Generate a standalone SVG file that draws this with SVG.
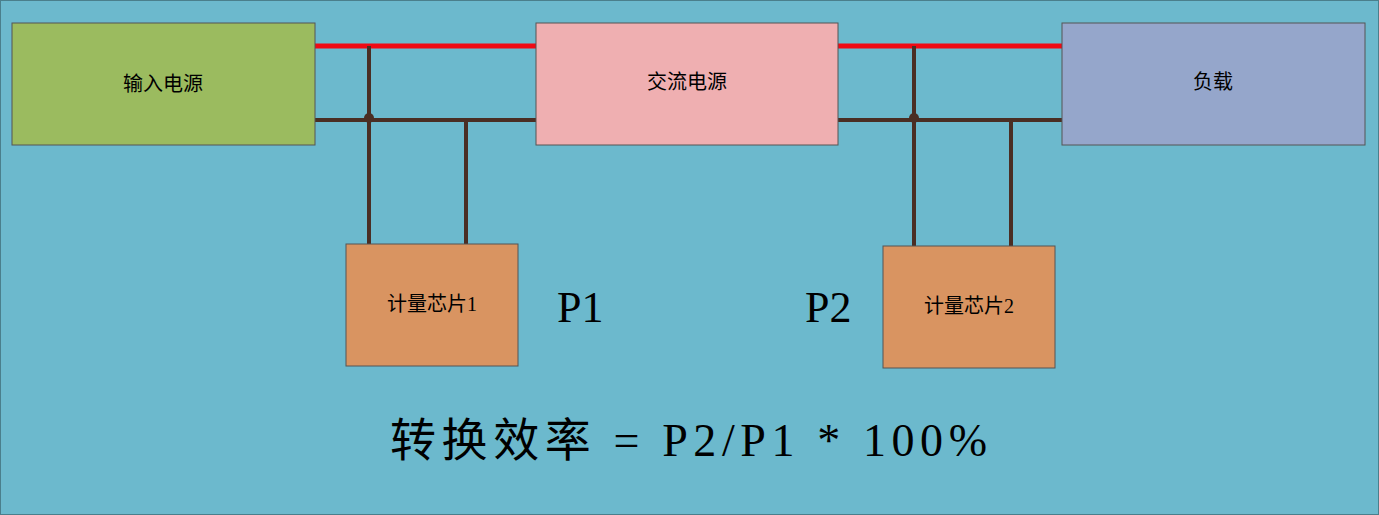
<svg xmlns="http://www.w3.org/2000/svg" width="1379" height="515" viewBox="0 0 1379 515">
<style>
.box{stroke:#555;stroke-width:1}
.lbl{font-family:"Liberation Serif","Noto Sans CJK SC",serif;font-size:20px;text-anchor:middle;fill:#000}
.big{font-family:"Liberation Serif","Noto Sans CJK SC",serif;fill:#000}
.red{stroke:#F00A14;stroke-width:5;fill:none}
.brn{stroke:#4A2E24;stroke-width:4;fill:none}
</style>
<rect x="0.5" y="0.5" width="1378" height="514" fill="#6CB9CD" stroke="#4a7f8c"/>
<g id="connectors">
<path class="red" d="M315 46H536M838 46H1062"/>
<path class="brn" d="M315 120H536M838 120H1062M369 46V244M466 120V244M914 46V246M1011 120V246"/>
<circle cx="369" cy="118" r="5" fill="#4A2E24"/>
<circle cx="914" cy="118" r="5" fill="#4A2E24"/>
</g>
<g id="input"><rect class="box" x="12" y="23" width="303" height="122" fill="#9BBB5F"/><text class="lbl" x="163" y="91">输入电源</text></g>
<g id="ac"><rect class="box" x="536" y="23" width="302" height="122" fill="#EFAFB1"/><text class="lbl" x="687" y="89">交流电源</text></g>
<g id="load"><rect class="box" x="1062" y="23" width="303" height="122" fill="#95A6CB"/><text class="lbl" x="1213" y="89">负载</text></g>
<g id="chip1"><rect class="box" x="346" y="244" width="172" height="122" fill="#D99461"/><text class="lbl" x="432" y="311">计量芯片1</text></g>
<g id="chip2"><rect class="box" x="883" y="246" width="172" height="122" fill="#D99461"/><text class="lbl" x="969" y="313">计量芯片2</text></g>
<text class="big" x="557" y="322" font-size="44">P1</text>
<text class="big" x="805" y="322" font-size="44">P2</text>
<text class="big" x="390" y="456" font-size="46" textLength="597" lengthAdjust="spacing" xml:space="preserve">转换效率 = P2/P1 * 100%</text>
</svg>
